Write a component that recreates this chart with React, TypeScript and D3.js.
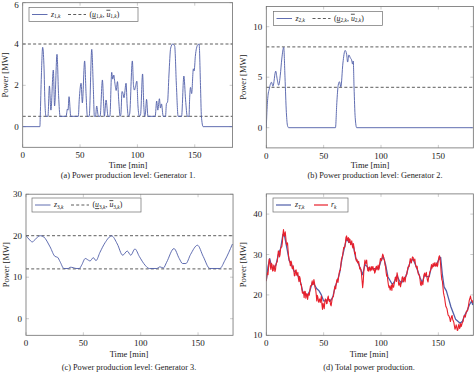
import React from "react";
import * as d3 from "d3";

// ---------- DATA ----------
const gen1Time = [0,15,15.3,16.3,17.4,18.5,19.5,20.3,22,23.3,24.6,26.7,27.8,29.9,31.3,32.6,37.8,39,39.5,40.4,41.9,48.5,49.3,50.9,52,54,55.3,56.4,58,60.2,61.5,62.5,63.5,64.5,66,67.5,69.5,70.5,71.2,72.7,74.4,76,77.6,78.5,79.4,80.5,81.5,82.6,83.8,84.9,85.6,86.6,87.5,88.3,90.1,91.1,92.2,93.2,95.6,96.6,97.4,98.2,99.5,100.5,101.7,102.8,104.5,105.6,106.3,106.9,108,109.2,115.5,116.8,117.8,119.2,120.1,121,122.5,124.5,125.3,126.3,127.5,129,130.8,132.5,134,135.5,138.5,140.5,142,143.5,145,145.5,146.3,147.3,148.8,149.5,150.5,152.5,153.8,155,155.8,157.3,183];
const gen1Power = [0,0,0.5,2.5,3.84,3,1,0.5,0.5,1.97,0.8,2.74,1.0,3.5,1.5,0.5,0.5,0.85,0.8,1.45,0.5,0.5,1.3,2.1,1.15,3.18,1.5,0.5,0.5,3.74,2,0.5,0.5,1.0,0.5,0.5,2.26,1.2,0.5,1.29,0.5,0.5,2.63,2.3,2.5,2.05,1.75,2.18,1.2,0.5,0.6,1.7,1.6,1.4,2.1,1.0,0.5,0.6,3.18,2.0,1.77,1.9,2.2,1.0,0.5,0.6,2.55,1.0,0.5,0.6,1.32,0.5,0.5,1.24,0.8,1.35,0.9,1.1,0.5,0.5,1.1,1.2,2.5,3.8,4.0,3.9,2,0.5,0.5,2.45,1.3,0.5,0.5,1.3,1.9,1.6,2.8,2.7,3.4,3.95,4.0,2,0.5,0,0];
const gen1Bounds = [0.5, 4];

const gen2Time = [0,0.5,1.5,2.5,4.5,5.8,8.2,9.5,10.8,12.2,13.5,15.2,16.3,17.5,18.5,19.5,60.3,61.5,62.7,63.8,65,66.8,68.7,70,70.9,72,73.3,74.4,75.2,75.8,76.5,77.5,78.8,180];
const gen2Power = [0,1.5,3.2,3.8,4.5,4.1,5.6,4.8,4.2,5.2,6.8,7.95,5,1.5,0.2,0,0,2.5,4.2,4.55,4.05,6.4,7.65,7.3,6.5,7.2,6.9,6.7,6.3,6.6,4,1,0,0];
const gen2Bounds = [4, 8];

const gen3Time = [0,2.5,5.5,9,12.5,15.5,21,25.3,27.5,29.6,33.1,36.9,38.4,41.2,43.6,46.5,48.5,51.7,54.4,55.8,58.7,61,64.5,68.9,74.7,79.6,84.3,88.3,91.3,95,98.8,103.8,107.5,113.9,116.8,119.7,122.6,129,133.6,136.5,139.4,143.5,149.5,154.5,160.3,169,173.3,180];
const gen3Power = [20,19.2,18.5,19.4,20,19.7,17.3,15,14.8,13.8,12.1,12.1,12.4,12.3,12.1,12.1,12.9,14.5,14.1,13.9,14.7,14,16,18.3,19.95,18,15.3,16.3,15.3,16.8,15,12.9,12.1,12.1,12.5,12.2,13.6,16.9,14.5,13.3,13.3,15.5,17.7,15,12.1,12.1,14,18];
const gen3Bounds = [12, 20];

const totalTime = [0,1.5,3,4.5,6.5,8.5,10.5,12.5,14.5,16,18,20,22,24,26,28,30,32,34,36,38,40,42,44,46,48,50,52,54,56,58,60,62,64,66,68,70,72,74,76,78,80,82,84,86,88,90,92,94,96,98,100,102,104,106,108,110,112,114,116,118,120,122,124,126,128,130,132,134,136,138,140,142,144,146,148,150,152,153.5,155,157,159,161,163,165,167,169,171,173,175,177,179,180];
const totalPower = [23.5,27,29,27,26.5,27.5,30,31.5,35,34.5,31.5,28.5,27.5,26,25.5,24.5,23,20.5,20,20,21,23,22.5,21.5,21,20,18.5,18.5,19,18.5,19.5,22,23.5,25.5,29,31.5,34,33,33,32,29,28,26.5,25,27.5,27,26.3,26.5,26.5,26.5,26.5,28.5,29.5,27.5,24.5,23.5,22.5,23.5,24.8,23.5,23,24,24.8,27,28.5,28.8,27.5,26,24.3,23,25,24.5,24.5,27,27.3,27.3,28.5,29.3,25,22,21,19,17,15.5,14,13.5,13,13.5,15,16,17.5,18.5,17.5];

// reference r_k at whole minutes t = 0..180
const refPowerWhole = [23.4,25.5,27.1,28.5,26.3,27.5,26.0,26.9,26.2,28.0,29.5,30.6,30.0,31.8,33.0,36.2,34.8,34.2,32.4,31.0,28.6,27.2,28.0,26.5,26.0,24.8,26.2,25.0,24.0,24.6,22.6,21.4,20.6,19.3,20.8,20.3,18.9,20.4,21.2,22.3,23.5,22.8,23.0,21.4,18.5,19.4,18.6,18.1,19.7,16.4,17.3,18.2,18.9,17.9,19.7,18.4,17.6,18.2,19.5,20.7,22.2,22.8,23.9,24.3,26.0,27.4,29.2,30.8,31.7,33.0,34.6,33.9,32.9,33.7,32.6,32.1,32.7,30.2,29.3,28.8,27.9,27.3,26.7,25.2,21.8,25.8,28.6,27.9,27.0,25.9,26.9,26.4,26.1,27.0,26.5,25.7,27.1,26.8,26.2,28.0,28.9,29.4,29.7,28.7,27.0,24.6,23.4,21.8,21.2,22.4,22.8,21.9,23.3,24.2,25.5,23.6,22.5,22.0,23.5,24.5,23.9,23.2,25.0,26.0,27.1,28.0,28.5,28.9,29.3,28.4,27.6,26.7,25.9,25.0,23.9,22.3,23.0,23.9,25.4,25.0,24.5,23.2,24.8,25.9,27.5,27.2,27.0,28.0,27.3,27.0,28.6,29.7,27.4,23.8,22.0,19.8,18.1,16.9,15.8,14.9,14.2,14.0,14.9,13.6,12.3,11.9,12.1,11.3,12.8,12.0,12.2,13.2,14.2,14.8,15.3,16.0,16.9,18.7,19.7,18.5,18.0];
// reference r_k at half minutes t = 0.5..179.5
const refPowerHalf = [24.9,25.0,28.9,27.0,27.8,25.9,27.4,25.8,27.6,28.2,30.9,29.4,31.6,31.9,35.0,34.6,35.6,32.6,32.9,29.4,28.3,28.4,26.6,27.2,24.7,26.0,24.9,25.6,23.3,24.1,22.6,20.4,20.7,20.9,19.2,20.2,19.9,19.9,22.2,22.4,22.5,23.8,21.8,20.2,19.9,18.2,19.0,18.8,17.6,17.9,16.6,19.0,17.8,19.2,18.6,18.9,17.3,19.1,19.6,21.7,21.5,23.7,23.1,25.4,26.1,28.7,29.7,31.8,31.9,34.3,33.5,34.2,33.9,32.4,33.4,31.6,31.6,30.6,28.4,28.0,28.3,26.4,26.3,23.5,23.2,27.4,27.8,28.6,26.0,26.7,25.9,27.0,26.9,26.1,25.4,26.8,26.2,27.4,26.9,29.0,28.5,30.1,28.9,27.4,25.5,24.9,22.4,22.2,21.8,21.1,22.0,22.7,24.4,23.3,24.8,22.4,23.2,22.8,24.4,23.2,24.3,24.3,25.1,26.8,27.0,29.0,27.9,29.4,28.5,28.9,27.0,27.1,25.2,24.9,22.6,23.3,22.5,25.0,24.6,25.6,23.6,24.3,25.6,26.4,26.6,27.8,27.6,27.1,27.9,27.4,29.4,29.0,25.2,23.4,20.5,19.2,17.2,16.6,15.0,14.6,13.4,14.7,13.9,13.2,11.5,12.6,11.2,12.4,11.7,12.9,12.7,13.4,14.9,14.5,16.0,16.1,17.8,19.1,19.0,18.6];

const refTime: number[] = [];
const refPower: number[] = [];
refPowerWhole.forEach((v, i) => {
  refTime.push(i); refPower.push(v);
  if (i < refPowerHalf.length) { refTime.push(i + 0.5); refPower.push(refPowerHalf[i]); }
});

const xTicks = [0, 50, 100, 150];
const yTicksA = [0, 2, 4, 6];
const yTicksB = [0, 5, 10];
const yTicksC = [0, 10, 20, 30];
const yTicksD = [10, 20, 30, 40];

const captions = [
  "(a) Power production level: Generator 1.",
  "(b) Power production level: Generator 2.",
  "(c) Power production level: Generator 3.",
  "(d) Total power production.",
];

// ---------- STYLE ----------
const FONT = "'Liberation Serif', 'Times New Roman', serif";
const BLUE = "#4f5ea8";
const RED = "#e8202c";
const FRAME = "#6e6e6e";
const TICK = "#aaaaaa";

type Series = { t: number[]; v: number[]; color: string; width: number; curve?: any };

function Panel(props: {
  left: number; right: number; top: number; bottom: number;
  xMax: number; yDomain: [number, number]; yTicks: number[];
  series: Series[]; bounds?: number[];
  legend: React.ReactNode;
  caption: string; captionX: number; captionY: number;
  xLabelX: number; xLabelY: number; yLabelX: number;
}) {
  const { left, right, top, bottom, xMax, yDomain, yTicks, series, bounds } = props;
  const x = d3.scaleLinear().domain([0, xMax]).range([left, right]);
  const y = d3.scaleLinear().domain(yDomain).range([bottom, top]);
  const clipId = `clip-${Math.round(left)}-${Math.round(top)}`;
  return (
    <g fontFamily={FONT}>
      <defs>
        <clipPath id={clipId}>
          <rect x={left} y={top} width={right - left} height={bottom - top} />
        </clipPath>
      </defs>
      <rect x={left} y={top} width={right - left} height={bottom - top} fill="white" />
      {xTicks.map((t) => (
        <g key={"x" + t}>
          <line x1={x(t)} x2={x(t)} y1={bottom} y2={bottom - 3} stroke={TICK} strokeWidth={0.6} />
          <line x1={x(t)} x2={x(t)} y1={top} y2={top + 3} stroke={TICK} strokeWidth={0.6} />
          <text x={x(t)} y={bottom + 11} fontSize={9} textAnchor="middle" fill="#222">{t}</text>
        </g>
      ))}
      {yTicks.map((t) => (
        <g key={"y" + t}>
          <line x1={left} x2={left + 3} y1={y(t)} y2={y(t)} stroke={TICK} strokeWidth={0.6} />
          <line x1={right} x2={right - 3} y1={y(t)} y2={y(t)} stroke={TICK} strokeWidth={0.6} />
          <text x={left - 4} y={Math.max(y(t) + 3, 8)} fontSize={9} textAnchor="end" fill="#222">{t}</text>
        </g>
      ))}
      <g clipPath={`url(#${clipId})`}>
        {bounds && bounds.map((b) => (
          <line key={"b" + b} x1={left} x2={right} y1={y(b)} y2={y(b)} stroke="#333" strokeWidth={0.8} strokeDasharray="3,2.2" />
        ))}
        {series.map((s, i) => {
          const pts: [number, number][] = s.t.map((tt, j) => [tt, s.v[j]]);
          const line = d3.line<[number, number]>()
            .x((d) => x(d[0]))
            .y((d) => y(d[1]))
            .curve(s.curve || d3.curveLinear);
          return <path key={i} d={line(pts) || ""} fill="none" stroke={s.color} strokeWidth={s.width} strokeLinejoin="round" />;
        })}
      </g>
      <rect x={left} y={top} width={right - left} height={bottom - top} fill="none" stroke={FRAME} strokeWidth={0.8} />
      {props.legend}
      <text x={props.xLabelX} y={props.xLabelY} fontSize={8.5} textAnchor="middle" fill="#222">Time [min]</text>
      <text transform={`translate(${props.yLabelX},${(top + bottom) / 2}) rotate(-90)`} fontSize={8.5} textAnchor="middle" fill="#222">Power [MW]</text>
      <text x={props.captionX} y={props.captionY} fontSize={8.3} textAnchor="middle" fill="#222">{props.caption}</text>
    </g>
  );
}

function GenLegend({ x0, y0, idx }: { x0: number; y0: number; idx: number }) {
  const w = 109, h = 14;
  const cy = y0 + h / 2;
  return (
    <g fontFamily={FONT}>
      <rect x={x0} y={y0} width={w} height={h} fill="white" stroke={FRAME} strokeWidth={0.7} />
      <line x1={x0 + 3} x2={x0 + 18.5} y1={cy} y2={cy} stroke={BLUE} strokeWidth={0.9} />
      <text x={x0 + 22} y={cy + 2.3} fontSize={7.8} fill="#222">
        <tspan fontStyle="italic">z</tspan>
        <tspan fontSize={5.4} dy={1.6}>{`${idx},`}</tspan>
        <tspan fontSize={5.4} fontStyle="italic">k</tspan>
      </text>
      <line x1={x0 + 39} x2={x0 + 57} y1={cy} y2={cy} stroke="#333" strokeWidth={0.8} strokeDasharray="3,2.2" />
      <text x={x0 + 60.5} y={cy + 2.3} fontSize={7.8} fill="#222">
        <tspan>(</tspan>
        <tspan fontStyle="italic" textDecoration="underline">u</tspan>
        <tspan fontSize={5.4} dy={1.6}>{`${idx},`}</tspan>
        <tspan fontSize={5.4} fontStyle="italic">k</tspan>
        <tspan dy={-1.6}>, </tspan>
        <tspan fontStyle="italic" textDecoration="overline">u</tspan>
        <tspan fontSize={5.4} dy={1.6}>{`${idx},`}</tspan>
        <tspan fontSize={5.4} fontStyle="italic">k</tspan>
        <tspan dy={-1.6}>)</tspan>
      </text>
    </g>
  );
}

function TotalLegend({ x0, y0 }: { x0: number; y0: number }) {
  const w = 75, h = 14;
  const cy = y0 + h / 2;
  return (
    <g fontFamily={FONT}>
      <rect x={x0} y={y0} width={w} height={h} fill="white" stroke={FRAME} strokeWidth={0.7} />
      <line x1={x0 + 3} x2={x0 + 18} y1={cy} y2={cy} stroke={BLUE} strokeWidth={1.2} />
      <text x={x0 + 22} y={cy + 2.3} fontSize={7.8} fill="#222">
        <tspan fontStyle="italic">z</tspan>
        <tspan fontSize={5.4} dy={1.6} fontStyle="italic">T,k</tspan>
      </text>
      <line x1={x0 + 41} x2={x0 + 55} y1={cy} y2={cy} stroke={RED} strokeWidth={1.2} />
      <text x={x0 + 58} y={cy + 2.3} fontSize={7.8} fill="#222">
        <tspan fontStyle="italic">r</tspan>
        <tspan fontSize={5.4} dy={1.6} fontStyle="italic">k</tspan>
      </text>
    </g>
  );
}

export default function App() {
  const pxPerMin = 1.147;
  return (
    <svg width={474} height={373} style={{ position: "absolute", left: 0, top: 0, background: "white" }} fontFamily={FONT}>
      <rect width={474} height={373} fill="white" />
      <Panel left={22.7} right={22.7 + 183 * pxPerMin} top={2.7} bottom={147.3}
        xMax={183} yDomain={[-1, 6]} yTicks={yTicksA}
        series={[{ t: gen1Time, v: gen1Power, color: BLUE, width: 0.9, curve: d3.curveMonotoneX }]}
        bounds={gen1Bounds}
        legend={<GenLegend x0={29} y0={7.5} idx={1} />}
        caption={captions[0]} captionX={128} captionY={177.5}
        xLabelX={128} xLabelY={167.5} yLabelX={8} />
      <Panel left={266.3} right={266.3 + 180.5 * pxPerMin} top={6.5} bottom={147.9}
        xMax={180.5} yDomain={[-2, 12]} yTicks={yTicksB}
        series={[{ t: gen2Time, v: gen2Power, color: BLUE, width: 0.9, curve: d3.curveMonotoneX }]}
        bounds={gen2Bounds}
        legend={<GenLegend x0={273.5} y0={11.5} idx={2} />}
        caption={captions[1]} captionX={375} captionY={177.5}
        xLabelX={370} xLabelY={167.5} yLabelX={246} />
      <Panel left={26} right={26 + 180.5 * pxPerMin} top={194.2} bottom={335.3}
        xMax={180.5} yDomain={[-4, 30]} yTicks={yTicksC}
        series={[{ t: gen3Time, v: gen3Power, color: BLUE, width: 0.9, curve: d3.curveMonotoneX }]}
        bounds={gen3Bounds}
        legend={<GenLegend x0={32} y0={198} idx={3} />}
        caption={captions[2]} captionX={129} captionY={369.5}
        xLabelX={129} xLabelY={357} yLabelX={9} />
      <Panel left={266.3} right={266.3 + 180.5 * pxPerMin} top={193.9} bottom={335.3}
        xMax={180.5} yDomain={[10, 45]} yTicks={yTicksD}
        series={[
          { t: totalTime, v: totalPower, color: BLUE, width: 1.3 },
          { t: refTime, v: refPower, color: RED, width: 1.1 },
        ]}
        legend={<TotalLegend x0={273} y0={198} />}
        caption={captions[3]} captionX={369} captionY={369.5}
        xLabelX={369} xLabelY={357} yLabelX={246} />
    </svg>
  );
}
